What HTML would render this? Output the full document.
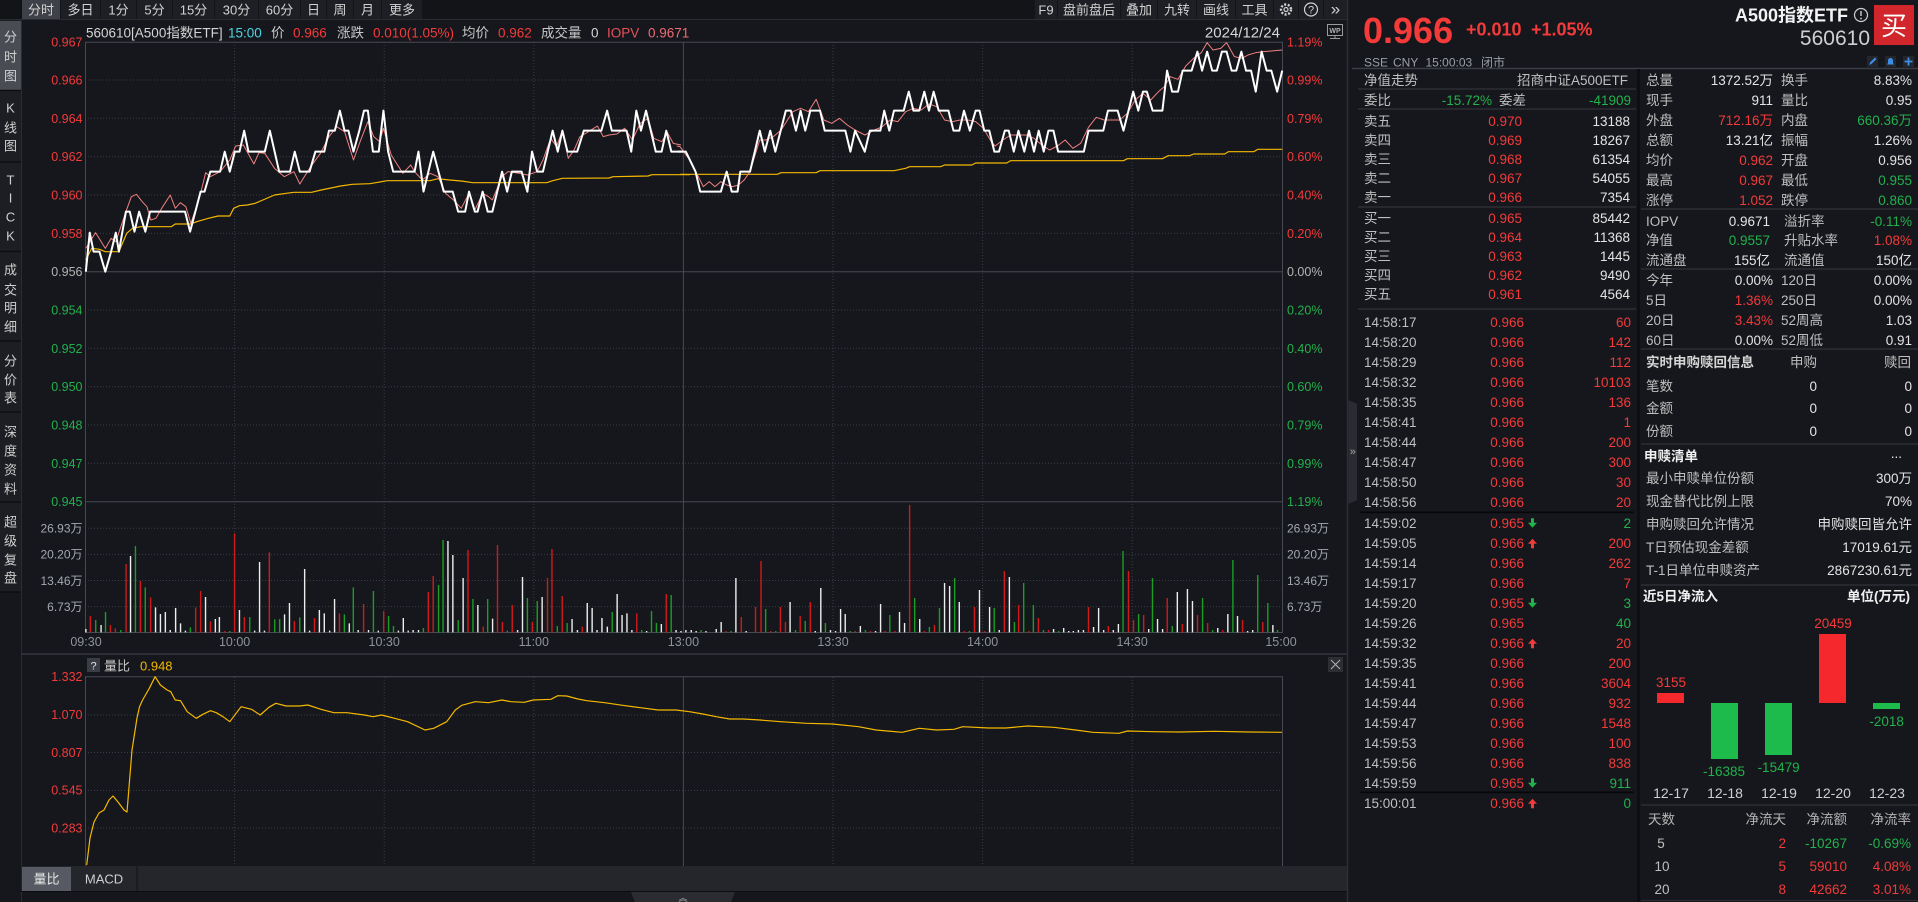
<!DOCTYPE html>
<html><head><meta charset="utf-8">
<style>
html,body{margin:0;padding:0;background:#15171c;overflow:hidden;width:1918px;height:902px}
svg{display:block}
text{font-family:"Liberation Sans","Noto Sans CJK SC",sans-serif}
.r{fill:#f43a3a}.g{fill:#22b14c}.w{fill:#e4e4e4}.l{fill:#bfbfbf}.y{fill:#f5b800}
.e{text-anchor:end}.m{text-anchor:middle}
</style></head><body>
<svg width="1918" height="902" viewBox="0 0 1918 902" xmlns="http://www.w3.org/2000/svg">
<rect x="0" y="0" width="1918" height="902" fill="#15171c"/>

<!-- TOP TOOLBAR -->
<rect x="0" y="0" width="1347" height="19" fill="#121418"/>
<g fill="#1d1f24">
<rect x="22" y="0" width="38" height="19" fill="#3f4148"/>
<rect x="61" y="0" width="39" height="19"/><rect x="101" y="0" width="35" height="19"/>
<rect x="137" y="0" width="35" height="19"/><rect x="173" y="0" width="41" height="19"/>
<rect x="215" y="0" width="43" height="19"/><rect x="259" y="0" width="41" height="19"/>
<rect x="301" y="0" width="25" height="19"/><rect x="327" y="0" width="26" height="19"/>
<rect x="354" y="0" width="27" height="19"/><rect x="382" y="0" width="40" height="19"/>
<rect x="1035" y="0" width="22" height="19"/><rect x="1058" y="0" width="62" height="19"/>
<rect x="1121" y="0" width="36" height="19"/><rect x="1158" y="0" width="38" height="19"/>
<rect x="1197" y="0" width="38" height="19"/><rect x="1236" y="0" width="37" height="19"/>
<rect x="1274" y="0" width="24" height="19"/><rect x="1299" y="0" width="24" height="19"/>
<rect x="1324" y="0" width="23" height="19"/>
</g>
<line x1="0" y1="19.5" x2="1347" y2="19.5" stroke="#2a2c32"/>
<g font-size="13" fill="#d2d2d2" text-anchor="middle">
<text x="41" y="14.3">分时</text><text x="80.5" y="14.3">多日</text><text x="118.5" y="14.3">1分</text>
<text x="154.5" y="14.3">5分</text><text x="193.5" y="14.3">15分</text><text x="236.5" y="14.3">30分</text>
<text x="279.5" y="14.3">60分</text><text x="313.5" y="14.3">日</text><text x="340" y="14.3">周</text>
<text x="367.5" y="14.3">月</text><text x="402" y="14.3">更多</text>
<text x="1046" y="14.3">F9</text><text x="1089" y="14.3">盘前盘后</text><text x="1139" y="14.3">叠加</text>
<text x="1177" y="14.3">九转</text><text x="1216" y="14.3">画线</text><text x="1254.5" y="14.3">工具</text>
</g>
<circle cx="1286" cy="9.5" r="5" fill="none" stroke="#d2d2d2" stroke-width="2.4" stroke-dasharray="2 1.6"/>
<circle cx="1286" cy="9.5" r="2" fill="none" stroke="#d2d2d2" stroke-width="1.2"/>
<circle cx="1311" cy="9.5" r="6.5" fill="none" stroke="#d2d2d2" stroke-width="1.2"/>
<text x="1311" y="13.5" font-size="11" fill="#d2d2d2" text-anchor="middle">?</text>
<text x="1335.5" y="14.5" font-size="17" fill="#d2d2d2" text-anchor="middle">»</text>

<!-- LEFT SIDEBAR -->
<rect x="0" y="20" width="21" height="572" fill="#1c1e23"/>
<rect x="0" y="21" width="21" height="69" fill="#4a4c54"/>
<g stroke="#0d0e11" stroke-width="1.5">
<line x1="0" y1="90.5" x2="21" y2="90.5"/><line x1="0" y1="162" x2="21" y2="162"/>
<line x1="0" y1="251.5" x2="21" y2="251.5"/><line x1="0" y1="341" x2="21" y2="341"/>
<line x1="0" y1="412" x2="21" y2="412"/><line x1="0" y1="502" x2="21" y2="502"/>
<line x1="0" y1="592" x2="21" y2="592"/>
</g>
<line x1="21.5" y1="20" x2="21.5" y2="902" stroke="#2a2c32"/>
<g font-size="13" fill="#cfcfcf" text-anchor="middle">
<text x="10.5" y="41.5">分</text><text x="10.5" y="61.5">时</text><text x="10.5" y="80.5">图</text>
<text x="10.5" y="112.3">K</text><text x="10.5" y="132.7">线</text><text x="10.5" y="150.7">图</text>
<text x="10.5" y="184.7">T</text><text x="10.5" y="202.7">I</text><text x="10.5" y="221.7">C</text><text x="10.5" y="240.7">K</text>
<text x="10.5" y="274.7">成</text><text x="10.5" y="294.7">交</text><text x="10.5" y="312.7">明</text><text x="10.5" y="331.7">细</text>
<text x="10.5" y="365.7">分</text><text x="10.5" y="384.7">价</text><text x="10.5" y="402.7">表</text>
<text x="10.5" y="436.7">深</text><text x="10.5" y="455.7">度</text><text x="10.5" y="474.7">资</text><text x="10.5" y="493.7">料</text>
<text x="10.5" y="526.7">超</text><text x="10.5" y="545.7">级</text><text x="10.5" y="564.7">复</text><text x="10.5" y="582.7">盘</text>
</g>

<!-- INFO LINE -->
<g font-size="13.5">
<text x="86" y="37.5" fill="#d4d4d4">560610[A500指数ETF]</text>
<text x="228" y="37.5" fill="#4fd3e2">15:00</text>
<text x="271" y="37.5" fill="#c8c8c8">价</text>
<text x="293" y="37.5" class="r">0.966</text>
<text x="337" y="37.5" fill="#c8c8c8">涨跌</text>
<text x="373" y="37.5" class="r">0.010(1.05%)</text>
<text x="462" y="37.5" fill="#c8c8c8">均价</text>
<text x="498" y="37.5" class="r">0.962</text>
<text x="541" y="37.5" fill="#c8c8c8">成交量</text>
<text x="591" y="37.5" fill="#d4d4d4">0</text>
<text x="607" y="37.5" fill="#e8505c">IOPV</text>
<text x="648" y="37.5" fill="#f06a72">0.9671</text>
</g>
<text x="1280" y="37.5" font-size="15" fill="#d8d8d8" text-anchor="end">2024/12/24</text>
<rect x="1327.5" y="24.5" width="15" height="11" fill="none" stroke="#9a9a9a"/>
<text x="1335" y="33" font-size="7" fill="#b0b0b0" text-anchor="middle" font-weight="bold">WP</text>
<line x1="1335" y1="36" x2="1335" y2="38.5" stroke="#9a9a9a"/><line x1="1330" y1="38.5" x2="1340" y2="38.5" stroke="#9a9a9a"/>

<!-- GRID: price -->
<g stroke="#3a3d45" stroke-dasharray="1 2">
<line x1="85" y1="80" x2="1282" y2="80"/><line x1="85" y1="118.3" x2="1282" y2="118.3"/>
<line x1="85" y1="156.7" x2="1282" y2="156.7"/><line x1="85" y1="195" x2="1282" y2="195"/>
<line x1="85" y1="233.3" x2="1282" y2="233.3"/>
<line x1="85" y1="310" x2="1282" y2="310"/><line x1="85" y1="348.3" x2="1282" y2="348.3"/>
<line x1="85" y1="386.7" x2="1282" y2="386.7"/><line x1="85" y1="425" x2="1282" y2="425"/>
<line x1="85" y1="463.3" x2="1282" y2="463.3"/>
<line x1="85" y1="528.3" x2="1282" y2="528.3"/><line x1="85" y1="554.4" x2="1282" y2="554.4"/>
<line x1="85" y1="580.5" x2="1282" y2="580.5"/><line x1="85" y1="606.6" x2="1282" y2="606.6"/>
<line x1="85" y1="715" x2="1282" y2="715"/><line x1="85" y1="752.5" x2="1282" y2="752.5"/>
<line x1="85" y1="790.5" x2="1282" y2="790.5"/><line x1="85" y1="828" x2="1282" y2="828"/>
<line x1="234.6" y1="42" x2="234.6" y2="632"/><line x1="384.2" y1="42" x2="384.2" y2="632"/>
<line x1="533.8" y1="42" x2="533.8" y2="632"/><line x1="833" y1="42" x2="833" y2="632"/>
<line x1="982.6" y1="42" x2="982.6" y2="632"/><line x1="1132.2" y1="42" x2="1132.2" y2="632"/>
<line x1="234.6" y1="677" x2="234.6" y2="866"/><line x1="384.2" y1="677" x2="384.2" y2="866"/>
<line x1="533.8" y1="677" x2="533.8" y2="866"/><line x1="833" y1="677" x2="833" y2="866"/>
<line x1="982.6" y1="677" x2="982.6" y2="866"/><line x1="1132.2" y1="677" x2="1132.2" y2="866"/>
</g>
<g stroke="#474a52" stroke-width="1">
<line x1="85" y1="42.2" x2="1283" y2="42.2"/>
<line x1="85" y1="271.7" x2="1282" y2="271.7"/>
<line x1="85" y1="501.7" x2="1282" y2="501.7"/>
<line x1="85" y1="632.5" x2="1282" y2="632.5"/>
<line x1="85.5" y1="42" x2="85.5" y2="633"/>
<line x1="1282.5" y1="42" x2="1282.5" y2="633"/>
<line x1="683.4" y1="42" x2="683.4" y2="632"/>
<line x1="85" y1="676.7" x2="1283" y2="676.7"/>
<line x1="85.5" y1="676.7" x2="85.5" y2="866"/>
<line x1="1282.5" y1="676.7" x2="1282.5" y2="866"/>
<line x1="683.4" y1="677" x2="683.4" y2="866"/>
</g>
<line x1="21" y1="654" x2="1347" y2="654" stroke="#34373e" stroke-width="1.5"/>

<!-- price axis labels -->
<g font-size="12.5" text-anchor="end">
<text x="82.5" y="46.5" class="r">0.967</text><text x="82.5" y="84.5" class="r">0.966</text>
<text x="82.5" y="122.8" class="r">0.964</text><text x="82.5" y="161.2" class="r">0.962</text>
<text x="82.5" y="199.5" class="r">0.960</text><text x="82.5" y="237.8" class="r">0.958</text>
<text x="82.5" y="276.2" fill="#b4b4b4">0.956</text>
<text x="82.5" y="314.5" class="g">0.954</text><text x="82.5" y="352.8" class="g">0.952</text>
<text x="82.5" y="391.2" class="g">0.950</text><text x="82.5" y="429.5" class="g">0.948</text>
<text x="82.5" y="467.8" class="g">0.947</text><text x="82.5" y="506.2" class="g">0.945</text>
</g>
<g font-size="12.5">
<text x="1287" y="46.5" class="r">1.19%</text><text x="1287" y="84.5" class="r">0.99%</text>
<text x="1287" y="122.8" class="r">0.79%</text><text x="1287" y="161.2" class="r">0.60%</text>
<text x="1287" y="199.5" class="r">0.40%</text><text x="1287" y="237.8" class="r">0.20%</text>
<text x="1287" y="276.2" fill="#b4b4b4">0.00%</text>
<text x="1287" y="314.5" class="g">0.20%</text><text x="1287" y="352.8" class="g">0.40%</text>
<text x="1287" y="391.2" class="g">0.60%</text><text x="1287" y="429.5" class="g">0.79%</text>
<text x="1287" y="467.8" class="g">0.99%</text><text x="1287" y="506.2" class="g">1.19%</text>
</g>
<g font-size="12" fill="#a4a8b0">
<text x="82.5" y="532.6" text-anchor="end">26.93万</text><text x="82.5" y="558.7" text-anchor="end">20.20万</text>
<text x="82.5" y="584.8" text-anchor="end">13.46万</text><text x="82.5" y="610.9" text-anchor="end">6.73万</text>
<text x="1287" y="532.6">26.93万</text><text x="1287" y="558.7">20.20万</text>
<text x="1287" y="584.8">13.46万</text><text x="1287" y="610.9">6.73万</text>
</g>
<g font-size="12.5" fill="#8e929a" text-anchor="middle">
<text x="86" y="646">09:30</text><text x="234.6" y="646">10:00</text><text x="384.2" y="646">10:30</text>
<text x="533.8" y="646">11:00</text><text x="683.4" y="646">13:00</text><text x="833" y="646">13:30</text>
<text x="982.6" y="646">14:00</text><text x="1132.2" y="646">14:30</text><text x="1281" y="646">15:00</text>
</g>

<!-- VOLUME BARS -->
<g transform="translate(60,520) scale(0.44643,0.33333)" stroke-width="1.4" fill="none">
<path vector-effect="non-scaling-stroke" stroke="#d01a1a" d="M68 337V288M113 337V315M124 337V325M148 337V132M180 337V183M203 337V232M304 337V262M315 337V213M337 337V304M369 337V333M391 337V40M413 337V291M469 337V97M525 337V303M570 337V294M626 337V280M680 337V252M725 337V273M825 337V216M836 337V168M914 337V90M948 337V320M980 337V75M991 337V306M1013 337V255M1058 337V306M1092 337V174M1102 337V87M1125 337V228M1170 337V320M1292 337V280M1358 337V222M1492 337V333M1526 337V291M1558 337V261"/>
<path vector-effect="non-scaling-stroke" stroke="#1a9e24" d="M80 337V300M102 337V276M136 337V330M169 337V78M191 337V202M292 337V322M380 337V333M425 337V291M481 337V298M492 337V297M537 337V292M637 337V283M657 337V202M702 337V213M736 337V288M747 337V318M814 337V324M848 337V195M858 337V60M892 337V300M925 337V237M958 337V237M1002 337V332M1047 337V234M1069 337V243M1114 337V318M1136 337V309M1237 337V276M1303 337V330M1325 337V273M1336 337V309M1369 337V225M1436 337V330M1503 337V333"/>
<path vector-effect="non-scaling-stroke" stroke="#eeeeee" d="M58 337V327M92 337V315M158 337V108M214 337V262M225 337V282M236 337V276M247 337V330M259 337V264M270 337V310M281 337V332M326 337V231M348 337V297M357 337V291M402 337V270M436 337V332M447 337V126M458 337V332M503 337V283M514 337V249M548 337V147M559 337V332M581 337V270M592 337V280M604 337V332M615 337V237M648 337V310M668 337V330M691 337V330M713 337V332M758 337V332M769 337V294M780 337V332M791 337V330M803 337V330M869 337V63M880 337V105M903 337V174M936 337V255M969 337V296M1025 337V330M1036 337V171M1080 337V231M1147 337V297M1159 337V330M1181 337V249M1192 337V264M1203 337V330M1214 337V294M1226 337V320M1248 337V222M1259 337V285M1270 337V280M1281 337V330M1314 337V333M1347 337V312M1380 337V330M1391 337V333M1402 337V330M1414 337V330M1425 337V333M1447 337V333M1470 337V327M1481 337V306M1514 337V174M1537 337V333"/>
</g>
<g transform="translate(700,520) scale(0.42092,0.33333)" stroke-width="1.4" fill="none">
<path vector-effect="non-scaling-stroke" stroke="#d01a1a" d="M145 337V123M168 337V333M191 337V261M203 337V306M238 337V288M262 337V246M369 337V333M405 337V333M440 337V333M463 337V333M498 337V-45M533 337V333M557 337V315M628 337V333M652 337V261M676 337V333M723 337V153M757 337V255M781 337V333M804 337V294M828 337V330M923 337V261M970 337V318M1018 337V153M1030 337V300M1054 337V285M1110 337V234M1146 337V312M1182 337V285M1206 337V309M1242 337V330M1289 337V300M1337 337V306"/>
<path vector-effect="non-scaling-stroke" stroke="#1a9e24" d="M156 337V267M180 337V333M227 337V330M250 337V303M298 337V309M357 337V333M393 337V330M451 337V285M510 337V234M545 337V321M569 337V264M605 337V174M640 337V333M699 337V264M747 337V306M769 337V189M792 337V255M816 337V330M852 337V333M1005 337V93M1042 337V282M1075 337V174M1122 337V318M1194 337V234M1218 337V330M1266 337V120M1325 337V165M1349 337V249M1372 337V330"/>
<path vector-effect="non-scaling-stroke" stroke="#eeeeee" d="M214 337V246M274 337V333M287 337V204M310 337V330M322 337V333M334 337V267M345 337V282M381 337V318M417 337V333M429 337V252M474 337V276M486 337V309M522 337V297M581 337V189M593 337V198M616 337V246M664 337V210M688 337V261M711 337V330M735 337V171M840 337V327M864 337V324M876 337V333M887 337V333M899 337V330M911 337V330M935 337V321M947 337V264M959 337V330M982 337V330M994 337V312M1066 337V327M1087 337V297M1099 337V327M1134 337V216M1158 337V207M1170 337V243M1230 337V324M1254 337V282M1277 337V288M1301 337V333M1313 337V330M1361 337V315"/>
</g>

<!-- PRICE LINES: left half -->
<g transform="translate(80,40) scale(0.38903,0.33333)" fill="none" stroke-linejoin="round">
<polyline vector-effect="non-scaling-stroke" stroke="#f5b800" stroke-width="1.2" points="15,660 30,625 50,628 65,635 100,635 120,580 135,565 155,560 235,560 245,552 285,552 300,545 330,535 355,528 385,528 395,505 410,497 430,495 450,490 470,480 500,465 530,460 550,457 595,457 620,450 645,444 670,438 700,433 745,431 760,428 790,422 900,422 920,416 950,420 980,423 1010,428 1200,428 1215,422 1240,415 1360,414 1370,410 1460,408 1470,404 1568,404"/>
<polyline vector-effect="non-scaling-stroke" stroke="#f08080" stroke-width="1" points="15,625 40,578 65,625 80,595 92,605 105,560 118,515 132,470 145,463 160,485 172,500 182,540 195,535 210,505 232,465 245,505 258,488 272,500 285,550 298,505 310,460 323,398 335,410 360,395 385,360 400,318 420,315 447,372 460,338 475,340 500,385 525,410 550,395 565,432 590,385 618,340 640,290 660,260 680,275 703,360 720,305 740,245 755,290 770,305 780,265 800,345 830,400 850,375 860,395 880,420 900,400 920,410 940,460 960,480 980,505 1000,460 1015,510 1035,460 1050,470 1060,480 1085,410 1100,395 1130,400 1150,405 1175,395 1190,360 1210,295 1225,320 1240,270 1255,355 1270,330 1285,290 1300,280 1330,258 1345,290 1360,285 1380,282 1400,265 1420,300 1440,250 1460,235 1475,295 1495,305 1510,278 1525,310 1545,315"/>
<polyline vector-effect="non-scaling-stroke" stroke="#ffffff" stroke-width="2" points="15,695 25,578 35,635 50,635 65,695 80,635 92,578 100,635 118,515 128,515 140,575 152,515 168,575 180,515 270,515 283,575 310,455 320,455 335,395 360,395 372,335 385,395 398,335 410,335 422,272 433,335 475,335 488,272 512,395 540,395 552,335 565,395 590,395 605,335 628,335 640,272 655,272 668,212 680,272 690,272 703,335 718,272 730,212 740,212 753,335 768,335 780,212 792,335 805,395 860,395 870,335 883,455 908,335 935,455 958,455 972,515 990,515 1000,455 1015,515 1022,515 1035,455 1048,515 1060,515 1085,395 1098,455 1110,395 1135,395 1150,455 1162,335 1175,395 1190,395 1215,272 1228,335 1240,272 1253,335 1278,335 1295,272 1340,272 1355,212 1367,272 1405,272 1417,335 1430,212 1442,272 1455,212 1480,335 1495,335 1507,272 1520,335 1550,335"/>
</g>
<!-- PRICE LINES: right half -->
<g transform="translate(680,40) scale(0.38903,0.33333)" fill="none" stroke-linejoin="round">
<polyline vector-effect="non-scaling-stroke" stroke="#f5b800" stroke-width="1.2" points="0,403 250,403 260,398 350,398 360,392 550,392 580,385 590,380 670,380 680,375 750,375 760,369 840,369 850,362 1140,362 1150,356 1240,356 1255,347 1310,347 1320,342 1400,342 1410,335 1475,335 1485,328 1548,328"/>
<polyline vector-effect="non-scaling-stroke" stroke="#f08080" stroke-width="1" points="-8,318 0,320 25,360 45,405 60,440 75,425 90,440 105,425 120,435 135,440 150,435 165,420 180,395 205,300 220,300 240,290 260,270 290,215 310,205 330,215 350,178 370,240 390,250 410,235 430,255 450,270 475,285 500,270 520,260 540,240 560,245 580,215 600,205 620,210 640,192 660,200 680,240 700,245 720,240 740,240 760,245 780,265 800,305 810,318 830,300 850,285 870,285 890,285 910,295 930,315 950,330 970,318 990,300 1010,325 1030,310 1050,262 1070,232 1090,240 1110,240 1130,240 1150,220 1170,180 1190,160 1210,180 1230,155 1245,140 1260,110 1280,118 1300,78 1320,55 1340,38 1355,8 1370,30 1390,25 1405,8 1425,50 1445,55 1460,45 1480,38 1500,35 1520,33 1548,30"/>
<polyline vector-effect="non-scaling-stroke" stroke="#ffffff" stroke-width="2" points="-5,335 15,335 40,395 52,455 105,455 120,395 133,455 148,455 155,395 180,395 205,272 218,335 232,272 245,335 272,212 285,212 298,272 310,212 322,272 335,212 360,212 372,272 425,272 438,335 450,272 475,335 488,272 515,272 525,212 538,272 550,212 575,212 588,155 600,212 615,212 628,155 640,212 652,155 665,212 690,212 703,272 718,272 730,212 745,272 760,212 770,212 782,272 795,272 808,335 820,335 835,272 845,272 858,335 870,272 885,335 897,272 910,335 922,272 935,335 947,272 960,272 972,335 1038,335 1050,272 1088,272 1100,212 1125,212 1140,272 1165,155 1178,212 1190,155 1200,155 1215,212 1240,212 1252,92 1265,155 1280,155 1292,92 1315,92 1330,35 1342,92 1355,35 1368,92 1380,92 1393,35 1405,35 1418,92 1430,92 1443,35 1455,92 1468,92 1480,155 1495,35 1508,92 1520,92 1535,155 1548,92"/>
</g>

<!-- 量比 panel -->
<rect x="87" y="658" width="13" height="14" fill="#3a3d45"/>
<text x="93.5" y="669.5" font-size="11" fill="#e0e0e0" text-anchor="middle">?</text>
<text x="104" y="670.5" font-size="13" fill="#c8c8c8">量比</text>
<text x="140" y="670.5" font-size="13" class="y">0.948</text>
<rect x="1328" y="657" width="15" height="15" fill="#2c2e34"/>
<path d="M1331 660L1340 669M1340 660L1331 669" stroke="#b0b0b0" stroke-width="1"/>
<g font-size="12.5" text-anchor="end" class="r">
<text x="82.5" y="681.2">1.332</text><text x="82.5" y="719">1.070</text><text x="82.5" y="756.8">0.807</text>
<text x="82.5" y="794.6">0.545</text><text x="82.5" y="832.5">0.283</text>
</g>
<polyline fill="none" stroke="#f5b800" stroke-width="1.2" stroke-linejoin="round" points="86.7,865 90,838 94,822 99,813 104,810 109,800 113,796 118,802 124,810 127,812 132,750 137,718 139.5,706.7 142.6,700 149.3,688.3 155.1,676.7 160.4,685 167.1,690 170.7,691.7 175.2,700 180.5,700.7 187.2,711.7 196.2,718.3 202.9,714.3 210.4,710.7 216.3,712.7 223,716.7 229.8,721.7 241.1,706.7 251.5,709.3 260.2,715 268.9,707.3 275.8,703.3 286.2,706 299.2,706 307.9,705 320.9,709.3 333.9,712.7 346.9,712.7 364.3,715 373,716.7 381.6,715 394.6,718.3 407.6,721.7 425,730 433.7,728.3 446.7,721.7 455.3,710 461.8,705.3 475.2,701.7 488.6,702.7 502,700 510.9,701.7 524.3,702.3 533.2,700 551,699.3 557.8,695.7 566.7,696 577.9,699 586.8,700.7 604.6,702.7 622.5,705.3 640.4,707.7 658.2,710 676,710 689.5,711.7 702.9,714 716.3,716.7 729.6,719 743,719 760,720 780.6,721.7 806.6,723.3 832.6,724 858.6,726.7 876,730 902,732.3 919.3,728.3 936.7,730 954,729.3 962.7,726.7 988.7,728 1006,728 1027.8,726 1053.8,727.3 1075.5,730 1092.8,732.3 1118.8,733.3 1127.5,731 1153.5,731.7 1179.5,732 1214.2,731.3 1249,732 1281.9,732.3"/>

<!-- bottom tab bar -->
<rect x="21" y="866" width="1326" height="25" fill="#24262c"/>
<rect x="22" y="867" width="49" height="24" fill="#585a63"/>
<line x1="137" y1="866" x2="137" y2="891" stroke="#111316"/>
<text x="46.5" y="883.5" font-size="13" fill="#e6e6e6" text-anchor="middle">量比</text>
<text x="104" y="883.5" font-size="13" fill="#cfcfcf" text-anchor="middle">MACD</text>
<line x1="21" y1="891.5" x2="1347" y2="891.5" stroke="#0c0d10"/>
<path d="M631 892H735L731 902H635Z" fill="#2a2c32"/>
<text x="683" y="901" font-size="9" fill="#b8b8b8" text-anchor="middle">︽</text>

<!-- MAIN SEPARATOR -->
<line x1="1347.5" y1="0" x2="1347.5" y2="902" stroke="#2c2f36" stroke-width="1.5"/>
<path d="M1348.5 400L1357 404V500L1348.5 504Z" fill="#2a2c32"/>
<text x="1352.8" y="455" font-size="11" fill="#a8a8a8" text-anchor="middle">»</text>

<!-- RIGHT PANEL HEADER -->
<text x="1363" y="43" font-size="36" font-weight="bold" fill="#f53a3a">0.966</text>
<text x="1466" y="35.5" font-size="18" font-weight="bold" fill="#f53a3a">+0.010</text>
<text x="1531" y="35.5" font-size="18" font-weight="bold" fill="#f53a3a">+1.05%</text>
<text x="1848" y="21.5" font-size="18" font-weight="bold" fill="#f2f2f2" text-anchor="end">A500指数ETF</text>
<circle cx="1861" cy="15" r="6.5" fill="none" stroke="#cfcfcf" stroke-width="1.2"/>
<line x1="1861" y1="11" x2="1861" y2="16" stroke="#cfcfcf" stroke-width="1.4"/>
<circle cx="1861" cy="18.5" r="0.9" fill="#cfcfcf"/>
<text x="1870" y="45" font-size="21" fill="#cfcfcf" text-anchor="end">560610</text>
<rect x="1874" y="5" width="40" height="40" fill="#d1262b"/>
<text x="1894" y="35" font-size="26" fill="#ffffff" text-anchor="middle">买</text>
<g font-size="12" fill="#9a9ea6">
<text x="1364" y="66.3">SSE</text><text x="1393" y="66.3">CNY</text>
<text x="1425.5" y="66.3">15:00:03</text><text x="1481" y="66.3">闭市</text>
</g>
<rect x="1867" y="56" width="11" height="11" fill="#23262d"/>
<path d="M1869.5 65L1870 62.5L1875 57.5L1876.5 59L1871.5 64Z" fill="#3b8fe6"/>
<rect x="1885" y="56" width="11" height="11" fill="#23262d"/>
<path d="M1887 64.5H1894L1893 63V60.5A2.5 2.5 0 0 0 1888 60.5V63Z" fill="#3b8fe6"/>
<rect x="1903" y="56" width="11" height="11" fill="#23262d"/>
<path d="M1908.5 57.5V65.5M1904.5 61.5H1912.5" stroke="#3b8fe6" stroke-width="1.8"/>
<line x1="1352" y1="68.5" x2="1918" y2="68.5" stroke="#3a3d44" stroke-width="1.5"/>

<!-- sub-panel divider -->
<line x1="1638.5" y1="69" x2="1638.5" y2="902" stroke="#0c0d10" stroke-width="2.5"/>

<!-- ORDER BOOK -->
<g stroke="#30333a" stroke-width="1.2">
<line x1="1358" y1="89" x2="1636" y2="89"/><line x1="1358" y1="109" x2="1636" y2="109"/>
<line x1="1358" y1="207" x2="1636" y2="207"/><line x1="1358" y1="309" x2="1636" y2="309"/>
<line x1="1641" y1="209" x2="1918" y2="209"/><line x1="1641" y1="269" x2="1918" y2="269"/>
<line x1="1641" y1="349" x2="1918" y2="349"/><line x1="1641" y1="444" x2="1918" y2="444"/>
<line x1="1641" y1="585" x2="1918" y2="585"/><line x1="1641" y1="805" x2="1918" y2="805"/>
</g>
<g stroke="#060708" stroke-width="1.6">
<line x1="1360" y1="512.3" x2="1634" y2="512.3"/><line x1="1360" y1="792.3" x2="1634" y2="792.3"/>
</g>
<g font-size="13.5">
<text x="1364" y="84.9" class="l">净值走势</text><text x="1628" y="84.9" class="l e">招商中证A500ETF</text>
<text x="1364" y="104.9" class="l">委比</text><text x="1492" y="104.9" class="g e">-15.72%</text>
<text x="1499" y="104.9" class="l">委差</text><text x="1631" y="104.9" class="g e">-41909</text>

<text x="1364" y="125.9" class="l">卖五</text><text x="1522" y="125.9" class="r e">0.970</text><text x="1630" y="125.9" class="w e">13188</text>
<text x="1364" y="144.9" class="l">卖四</text><text x="1522" y="144.9" class="r e">0.969</text><text x="1630" y="144.9" class="w e">18267</text>
<text x="1364" y="163.9" class="l">卖三</text><text x="1522" y="163.9" class="r e">0.968</text><text x="1630" y="163.9" class="w e">61354</text>
<text x="1364" y="182.9" class="l">卖二</text><text x="1522" y="182.9" class="r e">0.967</text><text x="1630" y="182.9" class="w e">54055</text>
<text x="1364" y="201.9" class="l">卖一</text><text x="1522" y="201.9" class="r e">0.966</text><text x="1630" y="201.9" class="w e">7354</text>
<text x="1364" y="222.9" class="l">买一</text><text x="1522" y="222.9" class="r e">0.965</text><text x="1630" y="222.9" class="w e">85442</text>
<text x="1364" y="241.9" class="l">买二</text><text x="1522" y="241.9" class="r e">0.964</text><text x="1630" y="241.9" class="w e">11368</text>
<text x="1364" y="260.9" class="l">买三</text><text x="1522" y="260.9" class="r e">0.963</text><text x="1630" y="260.9" class="w e">1445</text>
<text x="1364" y="279.9" class="l">买四</text><text x="1522" y="279.9" class="r e">0.962</text><text x="1630" y="279.9" class="w e">9490</text>
<text x="1364" y="298.9" class="l">买五</text><text x="1522" y="298.9" class="r e">0.961</text><text x="1630" y="298.9" class="w e">4564</text>
</g>

<!-- TRADES -->
<g font-size="13.5">
<g class="l">
<text x="1364" y="327.2">14:58:17</text><text x="1364" y="347.2">14:58:20</text><text x="1364" y="367.2">14:58:29</text>
<text x="1364" y="387.2">14:58:32</text><text x="1364" y="407.2">14:58:35</text><text x="1364" y="427.2">14:58:41</text>
<text x="1364" y="447.2">14:58:44</text><text x="1364" y="467.2">14:58:47</text><text x="1364" y="487.2">14:58:50</text>
<text x="1364" y="507.2">14:58:56</text><text x="1364" y="528.2">14:59:02</text><text x="1364" y="548.2">14:59:05</text>
<text x="1364" y="568.2">14:59:14</text><text x="1364" y="588.2">14:59:17</text><text x="1364" y="608.2">14:59:20</text>
<text x="1364" y="628.2">14:59:26</text><text x="1364" y="648.2">14:59:32</text><text x="1364" y="668.2">14:59:35</text>
<text x="1364" y="688.2">14:59:41</text><text x="1364" y="708.2">14:59:44</text><text x="1364" y="728.2">14:59:47</text>
<text x="1364" y="748.2">14:59:53</text><text x="1364" y="768.2">14:59:56</text><text x="1364" y="788.2">14:59:59</text>
<text x="1364" y="808.2">15:00:01</text>
</g>
<g class="r e">
<text x="1524" y="327.2">0.966</text><text x="1524" y="347.2">0.966</text><text x="1524" y="367.2">0.966</text>
<text x="1524" y="387.2">0.966</text><text x="1524" y="407.2">0.966</text><text x="1524" y="427.2">0.966</text>
<text x="1524" y="447.2">0.966</text><text x="1524" y="467.2">0.966</text><text x="1524" y="487.2">0.966</text>
<text x="1524" y="507.2">0.966</text><text x="1524" y="528.2">0.965</text><text x="1524" y="548.2">0.966</text>
<text x="1524" y="568.2">0.966</text><text x="1524" y="588.2">0.966</text><text x="1524" y="608.2">0.965</text>
<text x="1524" y="628.2">0.965</text><text x="1524" y="648.2">0.966</text><text x="1524" y="668.2">0.966</text>
<text x="1524" y="688.2">0.966</text><text x="1524" y="708.2">0.966</text><text x="1524" y="728.2">0.966</text>
<text x="1524" y="748.2">0.966</text><text x="1524" y="768.2">0.966</text><text x="1524" y="788.2">0.965</text>
<text x="1524" y="808.2">0.966</text>
</g>
<g class="e">
<text x="1631" y="327.2" class="r">60</text><text x="1631" y="347.2" class="r">142</text><text x="1631" y="367.2" class="r">112</text>
<text x="1631" y="387.2" class="r">10103</text><text x="1631" y="407.2" class="r">136</text><text x="1631" y="427.2" class="r">1</text>
<text x="1631" y="447.2" class="r">200</text><text x="1631" y="467.2" class="r">300</text><text x="1631" y="487.2" class="r">30</text>
<text x="1631" y="507.2" class="r">20</text><text x="1631" y="528.2" class="g">2</text><text x="1631" y="548.2" class="r">200</text>
<text x="1631" y="568.2" class="r">262</text><text x="1631" y="588.2" class="r">7</text><text x="1631" y="608.2" class="g">3</text>
<text x="1631" y="628.2" class="g">40</text><text x="1631" y="648.2" class="r">20</text><text x="1631" y="668.2" class="r">200</text>
<text x="1631" y="688.2" class="r">3604</text><text x="1631" y="708.2" class="r">932</text><text x="1631" y="728.2" class="r">1548</text>
<text x="1631" y="748.2" class="r">100</text><text x="1631" y="768.2" class="r">838</text><text x="1631" y="788.2" class="g">911</text>
<text x="1631" y="808.2" class="g">0</text>
</g>
</g>
<g>
<path transform="translate(1532.5,523.3)" d="M-1.5,-5h3v4.5h3l-4.5,5l-4.5,-5h3z" fill="#22b14c"/>
<path transform="translate(1532.5,543.3)" d="M-1.5,5h3v-4.5h3l-4.5,-5l-4.5,5h3z" fill="#f43a3a"/>
<path transform="translate(1532.5,603.3)" d="M-1.5,-5h3v4.5h3l-4.5,5l-4.5,-5h3z" fill="#22b14c"/>
<path transform="translate(1532.5,643.3)" d="M-1.5,5h3v-4.5h3l-4.5,-5l-4.5,5h3z" fill="#f43a3a"/>
<path transform="translate(1532.5,783.3)" d="M-1.5,-5h3v4.5h3l-4.5,5l-4.5,-5h3z" fill="#22b14c"/>
<path transform="translate(1532.5,803.3)" d="M-1.5,5h3v-4.5h3l-4.5,-5l-4.5,5h3z" fill="#f43a3a"/>
</g>

<!-- RIGHT SUBPANEL STATS -->
<g font-size="13.5">
<text x="1646" y="84.9" class="l">总量</text><text x="1773" y="84.9" class="w e">1372.52万</text><text x="1781" y="84.9" class="l">换手</text><text x="1912" y="84.9" class="w e">8.83%</text>
<text x="1646" y="104.9" class="l">现手</text><text x="1773" y="104.9" class="w e">911</text><text x="1781" y="104.9" class="l">量比</text><text x="1912" y="104.9" class="w e">0.95</text>
<text x="1646" y="124.9" class="l">外盘</text><text x="1773" y="124.9" class="r e">712.16万</text><text x="1781" y="124.9" class="l">内盘</text><text x="1912" y="124.9" class="g e">660.36万</text>
<text x="1646" y="144.9" class="l">总额</text><text x="1773" y="144.9" class="w e">13.21亿</text><text x="1781" y="144.9" class="l">振幅</text><text x="1912" y="144.9" class="w e">1.26%</text>
<text x="1646" y="164.9" class="l">均价</text><text x="1773" y="164.9" class="r e">0.962</text><text x="1781" y="164.9" class="l">开盘</text><text x="1912" y="164.9" class="w e">0.956</text>
<text x="1646" y="184.9" class="l">最高</text><text x="1773" y="184.9" class="r e">0.967</text><text x="1781" y="184.9" class="l">最低</text><text x="1912" y="184.9" class="g e">0.955</text>
<text x="1646" y="204.9" class="l">涨停</text><text x="1773" y="204.9" class="r e">1.052</text><text x="1781" y="204.9" class="l">跌停</text><text x="1912" y="204.9" class="g e">0.860</text>

<text x="1646" y="225.9" class="l">IOPV</text><text x="1770" y="225.9" class="w e">0.9671</text><text x="1784" y="225.9" class="l">溢折率</text><text x="1912" y="225.9" class="g e">-0.11%</text>
<text x="1646" y="244.9" class="l">净值</text><text x="1770" y="244.9" class="g e">0.9557</text><text x="1784" y="244.9" class="l">升贴水率</text><text x="1912" y="244.9" class="r e">1.08%</text>
<text x="1646" y="264.9" class="l">流通盘</text><text x="1770" y="264.9" class="w e">155亿</text><text x="1784" y="264.9" class="l">流通值</text><text x="1912" y="264.9" class="w e">150亿</text>

<text x="1646" y="284.9" class="l">今年</text><text x="1773" y="284.9" class="w e">0.00%</text><text x="1781" y="284.9" class="l">120日</text><text x="1912" y="284.9" class="w e">0.00%</text>
<text x="1646" y="304.9" class="l">5日</text><text x="1773" y="304.9" class="r e">1.36%</text><text x="1781" y="304.9" class="l">250日</text><text x="1912" y="304.9" class="w e">0.00%</text>
<text x="1646" y="324.9" class="l">20日</text><text x="1773" y="324.9" class="r e">3.43%</text><text x="1781" y="324.9" class="l">52周高</text><text x="1912" y="324.9" class="w e">1.03</text>
<text x="1646" y="344.9" class="l">60日</text><text x="1773" y="344.9" class="w e">0.00%</text><text x="1781" y="344.9" class="l">52周低</text><text x="1912" y="344.9" class="w e">0.91</text>

<text x="1646" y="366.9" fill="#d6d6d6" font-weight="bold">实时申购赎回信息</text><text x="1817" y="366.9" class="l e">申购</text><text x="1911" y="366.9" class="l e">赎回</text>
<text x="1646" y="390.9" class="l">笔数</text><text x="1817" y="390.9" class="w e">0</text><text x="1912" y="390.9" class="w e">0</text>
<text x="1646" y="412.9" class="l">金额</text><text x="1817" y="412.9" class="w e">0</text><text x="1912" y="412.9" class="w e">0</text>
<text x="1646" y="435.9" class="l">份额</text><text x="1817" y="435.9" class="w e">0</text><text x="1912" y="435.9" class="w e">0</text>

<text x="1644" y="460.9" fill="#f0f0f0" font-weight="bold">申赎清单</text><text x="1902" y="458" class="w e">...</text>
<text x="1646" y="482.9" class="l">最小申赎单位份额</text><text x="1912" y="482.9" class="w e">300万</text>
<text x="1646" y="505.9" class="l">现金替代比例上限</text><text x="1912" y="505.9" class="w e">70%</text>
<text x="1646" y="528.9" class="l">申购赎回允许情况</text><text x="1912" y="528.9" class="w e">申购赎回皆允许</text>
<text x="1646" y="551.9" class="l">T日预估现金差额</text><text x="1912" y="551.9" class="w e">17019.61元</text>
<text x="1646" y="574.9" class="l">T-1日单位申赎资产</text><text x="1912" y="574.9" class="w e">2867230.61元</text>

<text x="1643" y="600.9" fill="#f0f0f0" font-weight="bold">近5日净流入</text><text x="1910" y="600.9" fill="#f0f0f0" font-weight="bold" class="e">单位(万元)</text>
</g>

<!-- 5-day bars -->
<rect x="1657" y="693" width="27" height="10" fill="#f5282e"/>
<rect x="1711" y="703" width="27" height="56" fill="#1cbb4c"/>
<rect x="1765" y="703" width="27" height="52" fill="#1cbb4c"/>
<rect x="1819" y="634" width="27" height="69" fill="#f5282e"/>
<rect x="1873" y="703" width="27" height="6" fill="#1cbb4c"/>
<g font-size="13.5" text-anchor="middle">
<text x="1671" y="686.9" class="r">3155</text>
<text x="1724" y="775.9" class="g">-16385</text>
<text x="1778.6" y="771.9" class="g">-15479</text>
<text x="1833" y="627.9" class="r">20459</text>
<text x="1886.6" y="725.9" class="g">-2018</text>
</g>
<g font-size="14" fill="#cfcfcf" text-anchor="middle">
<text x="1671" y="798">12-17</text><text x="1725" y="798">12-18</text><text x="1779" y="798">12-19</text>
<text x="1833" y="798">12-20</text><text x="1887" y="798">12-23</text>
</g>

<!-- net flow table -->
<g font-size="13.5">
<text x="1648" y="823.9" fill="#b4b4b4">天数</text><text x="1786" y="823.9" fill="#b4b4b4" class="e">净流天</text>
<text x="1847" y="823.9" fill="#b4b4b4" class="e">净流额</text><text x="1911" y="823.9" fill="#b4b4b4" class="e">净流率</text>
<text x="1661" y="847.9" class="l m">5</text><text x="1786" y="847.9" class="r e">2</text><text x="1847" y="847.9" class="g e">-10267</text><text x="1911" y="847.9" class="g e">-0.69%</text>
<text x="1662" y="870.9" class="l m">10</text><text x="1786" y="870.9" class="r e">5</text><text x="1847" y="870.9" class="r e">59010</text><text x="1911" y="870.9" class="r e">4.08%</text>
<text x="1662" y="893.9" class="l m">20</text><text x="1786" y="893.9" class="r e">8</text><text x="1847" y="893.9" class="r e">42662</text><text x="1911" y="893.9" class="r e">3.01%</text>
</g>
<line x1="1641" y1="900.5" x2="1918" y2="900.5" stroke="#2c2f36"/>
</svg>
</body></html>
